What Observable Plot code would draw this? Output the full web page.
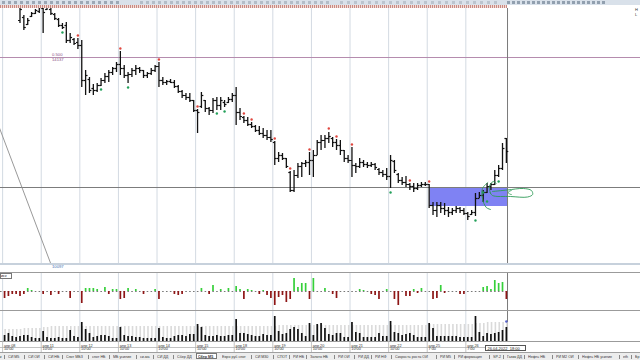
<!DOCTYPE html>
<html><head><meta charset="utf-8">
<script src="https://cdn.jsdelivr.net/npm/d3@7"></script>
<script src="https://cdn.jsdelivr.net/npm/@observablehq/plot@0.6"></script>
<style>
html,body{margin:0;padding:0;background:#fff;}
#root{position:relative;width:640px;height:360px;overflow:hidden;background:#fff;font-family:"Liberation Sans",Arial,sans-serif;color:#222;}
.a{position:absolute;}
.tab{position:absolute;top:354px;font-size:4.4px;line-height:5px;white-space:nowrap;transform:scaleX(0.83);transform-origin:left center;color:#333;}
.sep{position:absolute;top:354.5px;width:0.6px;height:4.5px;background:#888;}
</style></head><body><div id="root"></div>
<script>
// ---------- DATA (price in points; index = hourly bar number) ----------
const highs = [15100,14900,14840,14960,15020,15100,15100,15100,15040,14940,
14840,14740,14760,14540,14440,14440,14400,13800,13660,13520,
13540,13640,13740,13800,13860,13960,14180,13900,13760,13840,
13900,13860,13800,13760,13840,13900,13960,13660,13600,13620,
13600,13500,13400,13340,13340,13200,13020,13360,13200,13060,
13240,13260,13260,13200,13260,13340,13460,13040,12880,12860,
12760,12700,12680,12640,12600,12600,12380,12160,12140,12040,
11780,11800,11940,11960,12000,12160,12200,12400,12500,12500,
12560,12460,12420,12400,12200,12100,12260,11940,12040,12000,
11960,11960,11940,11840,11800,11840,12100,12000,11740,11660,
11680,11540,11540,11540,11560,11560,11520,11160,11160,11160,
11140,11060,11040,11080,11060,11040,10960,11000,11340,11360,
11400,11540,11540,11800,11900,12340,12440];
const lows = [14740,14600,14700,14860,14920,14940,14540,15000,14900,14800,
14660,14620,14340,14340,14300,14220,13460,13300,13340,13300,
13360,13480,13540,13560,13700,13760,13700,13640,13540,13660,
13700,13740,13640,13640,13700,13760,13460,13500,13500,13540,
13440,13340,13240,13200,13160,12960,12540,13040,12960,12900,
12940,13000,13000,13060,13140,13160,12700,12800,12740,12680,
12640,12560,12500,12440,12400,12360,11900,11960,12000,11840,
11360,11360,11640,11660,11860,11700,11660,12100,12200,12240,
12340,12260,12200,12100,11960,11940,11660,11740,11840,11860,
11840,11860,11800,11700,11660,11600,11440,11740,11540,11500,
11460,11400,11360,11400,11460,11480,11040,10900,10860,10940,
10900,10860,10900,10940,10940,10900,10800,10900,10880,11240,
11160,11340,11400,11500,11660,11800,11940];
const opens = [14800,14860,14720,14880,14940,14980,15040,15020,15020,14920,
14820,14700,14700,14400,14420,14360,14300,13600,13620,13440,
13400,13500,13600,13680,13760,13840,13920,13840,13700,13720,
13800,13840,13800,13700,13740,13800,13880,13600,13560,13580,
13560,13480,13380,13300,13260,13200,13000,13080,13200,13040,
13000,13200,13100,13160,13160,13220,13300,12960,12860,12800,
12720,12680,12600,12540,12500,12460,12360,12040,12100,12040,
11760,11400,11700,11880,11940,11960,12000,12100,12360,12400,
12440,12440,12360,12300,12200,12040,12000,11900,11880,11960,
11920,11900,11920,11820,11760,11720,11680,11980,11720,11600,
11560,11520,11480,11440,11500,11520,11520,11100,11000,11100,
11040,11000,10960,11000,11040,11000,10940,10920,10960,11240,
11300,11360,11480,11520,11700,11840,12440];
const closes = [15020,14660,14800,14940,15000,15060,14960,15080,14940,14840,
14700,14660,14400,14460,14340,14300,13600,13700,13400,13400,
13500,13600,13680,13760,13840,13920,13840,13700,13720,13800,
13840,13800,13700,13740,13800,13880,13600,13560,13580,13560,
13480,13380,13300,13260,13200,13000,12960,13300,13040,13000,
13200,13100,13200,13120,13220,13300,12960,12880,12800,12720,
12680,12600,12540,12500,12460,12420,12040,12100,12040,11880,
11400,11700,11880,11940,11960,12000,12100,12360,12400,12440,
12480,12360,12300,12200,12040,12000,11900,11880,11960,11920,
11900,11920,11860,11760,11720,11680,12000,11800,11600,11560,
11520,11480,11440,11500,11520,11520,11100,11000,11100,11040,
11000,10960,11000,11040,11000,10940,10880,10960,11240,11300,
11360,11480,11520,11700,11840,12240,12180];

// fractal markers [barIndex, price]
const upFractals = [[15,14500],[26,14240],[36,14020],[46,13080],[58,12940],[60,12820],[66,12440],[70,11840],[75,12220],[80,12640],[82,12480],[86,12320],[101,11600],[106,11580]];
const downFractals = [[11,14560],[21,13420],[28,13460],[51,12940],[53,12980],[96,11360],[118,10800],[124,11580],[120,11360],[121,11180]];

// horizontal levels
const fibLevel = 14060, fibLabels = ["0.500","14137"];
const supportLevel = 11460;
const bottomLabel = "10097";
// trend line (index, price)
const trendLine = [[-6,12790],[8.2,9890]];
// highlighted zone
const zone = {i1:106.2, i2:126.3, p1:11460, p2:11080};
// hand-drawn annotation strokes
const scribbleLoop = [[122.4,11380],[126.3,11410],[130.4,11440],[132.5,11400],[132.8,11320],[131.5,11270],[127.1,11280],[122.4,11300],[121.8,11360]];
const scribbleArc = [[121.2,11560],[119.8,11440],[119.8,11240],[120.8,11060],[121.9,11020]];
const scribbleCurl = [[121.9,11340],[121.6,11480],[122.6,11580],[123.4,11540]];
const scribbleHook = [[127.3,11400],[126.5,11370],[126.8,11330],[127.3,11320]];

// lower panes start 4 bars earlier (index -4)
const lowerStart = -4;
const indicator = [-7,-5,-3,-3,-5,-3,3,1,0,0,
-3,0,-4,0,-3,0,0,-7,0,0,
-12,3,3,3,2,0,4,-3,2,2,
-8,-7,3,0,2,0,-3,0,0,2,
-8,0,0,0,-3,-4,-3,0,0,0,
0,3,0,-3,6,0,2,0,3,0,
5,2,-8,2,1,0,-3,1,-4,-7,
-14,-6,-4,-11,-8,13,4,8,8,-8,
13,0,0,3,0,-3,-7,0,0,0,
0,0,2,1,0,-3,-4,-8,0,2,
0,-8,-14,0,-5,-5,2,-2,3,0,
0,-8,-7,6,-2,0,0,0,-3,-3,
0,0,0,0,4,5,2,11,8,9,-8];
const volume = [6,8,5,4,5,6,6,4,3,3,
10,4,3,3,4,3,3,11,5,4,
19,12,8,4,5,6,6,5,3,3,
14,6,5,5,4,4,3,3,3,3,
13,4,3,3,5,6,6,5,7,7,
17,14,6,5,5,6,5,5,6,6,
22,8,8,7,6,5,5,7,6,6,
25,10,7,8,12,14,12,8,5,18,
6,17,18,13,7,6,8,8,4,4,
19,9,8,4,4,4,4,8,5,5,
20,9,8,6,7,8,6,4,4,4,
18,13,5,5,5,5,5,5,4,4,
4,4,25,9,5,8,7,8,9,11,14];
const volumeAvg = [12,12,12,12,12,13,13,13,13,13,
14,14,15,15,15,15,15,15,15,15,
15,15,15,15,15,15,15,15,15,15,
15,15,15,15,15,15,15,15,15,15,
15,15,15,15,15,15,15,15,15,15,
15,15,15,15,15,15,15,15,15,15,
15,15,15,15,15,15,15,15,15,15,
15,16,16,16,16,16,16,16,16,16,
16,16,16,16,16,16,16,16,16,16,
16,16,16,16,16,16,16,16,16,16,
16,16,16,16,16,16,16,16,16,16,
17,17,17,17,17,17,17,17,17,17,
17,17,18,18,18,19,19,19,19,19,19];
const volumeMarker = 20;

const dayDates = ["апр 08","апр 11","апр 12","апр 13","апр 14","апр 15","апр 18","апр 19","апр 20","апр 21","апр 22","апр 25","апр 26"];
const dayTimes = ["10:00","10:00","10:00","10:00","10:00","10:00","10:00","10:00","10:00","10:00","10:00","7:00","7:00"];
const barsPerDay = 10;
const cursorLabel = "26.04.2022  18:00";

const tabNames = ["м","СИ М5","СИ ОИ","СИ НБ","Спот МБ3","спот НБ","МБ усилие","си-ма","СИ ДД","Сбер ДД","Сбер М5","Евро руб спот","СИ М30","СПОТ","РИ НБ","Золото НБ","РИ ОИ","РИ ДД","РИ НФ","Скорость роста ОИ","РИ М5","РИ формация","SP-2","Газик ДД","Нефть НБ","РИ М2 ОИ","Нефть НБ усилие","eth","Бр"];
const tabLeft = [-1,8,28,48,66,92,113,140,157,177,198,222,255,277,293,310,338,358,375,395,440,458,493,507,528,556,582,623,635];
const activeTab = "Сбер М5";

// ---------- BUILD ----------
const root = document.getElementById("root");
function put(node, top, left){ const d=document.createElement("div"); d.className="a"; d.style.left=(left||0)+"px"; d.style.top=top+"px"; d.style.width="640px"; d.appendChild(node); root.appendChild(d); return d; }
function box(css, text){ const d=document.createElement("div"); d.className="a"; d.style.cssText+=css; if(text!==undefined) d.textContent=text; root.appendChild(d); return d; }

const X = {domain:[-5.05,160.75], axis:null};
const lastIndex = highs.length-1;
const cursorI = zone.i2;
const dayGrid = dayDates.map((d,k)=>({g: lowerStart + k*barsPerDay - 0.5, date:d, time:dayTimes[k]}));
const bars = highs.map((h,i)=>({i, high:h, low:lows[i], open:opens[i], close:closes[i]}));
const ups = upFractals.map(([i,p])=>({i,p}));
const downs = downFractals.map(([i,p])=>({i,p}));
const toPts = (arr)=>arr.map(([i,p])=>({i,p}));
const st = {background:"transparent", overflow:"hidden", fontFamily:"Liberation Sans, Arial, sans-serif"};

// toolbar + band
box("left:0;top:0;width:640px;height:5px;background:#d9e1ea;");
box("left:2px;top:0.5px;width:120px;height:3.5px;background:repeating-linear-gradient(90deg,#8d9aa8 0 3px,transparent 3px 6px);opacity:.8;");
box("left:140px;top:0.5px;width:190px;height:3.5px;background:repeating-linear-gradient(90deg,#9aa6b2 0 3px,transparent 3px 6px);opacity:.6;");
box("left:340px;top:0.5px;width:160px;height:3.5px;background:repeating-linear-gradient(90deg,#a8b2bd 0 3px,transparent 3px 7px);opacity:.6;");
box("left:507px;top:0.5px;width:100px;height:3.5px;background:repeating-linear-gradient(90deg,#7f8fa0 0 3px,transparent 3px 5px);opacity:.8;");
box("left:0;top:5px;width:507px;height:3px;background:repeating-linear-gradient(90deg,#c98a82 0 1px,#f2ddd8 1px 2px);");

// price pane
const price = Plot.plot({
  width:640, height:257, margin:0, x:X, y:{domain:[9900,15040], axis:null}, style:st,
  marks:[
    Plot.ruleX(dayGrid,{x:"g", stroke:"#d3dae2", strokeWidth:1}),
    Plot.rect([zone],{x1:"i1", x2:"i2", y1:"p1", y2:"p2", fill:"#7f82f3"}),
    Plot.ruleY([fibLevel],{stroke:"#b58cae", strokeWidth:1}),
    Plot.ruleY([supportLevel],{stroke:"#7c7c7c", strokeWidth:1}),
    Plot.line(toPts(trendLine),{x:"i", y:"p", stroke:"#8d8d8d", strokeWidth:0.9}),
    Plot.ruleX([cursorI],{stroke:"#7a7a7a", strokeWidth:1}),
    Plot.ruleX(bars,{x:"i", y1:"low", y2:"high", stroke:"#111", strokeWidth:1.3}),
    Plot.link(bars,{x1:d=>d.i-0.5, x2:"i", y1:"open", y2:"open", stroke:"#111", strokeWidth:1.2}),
    Plot.link(bars,{x1:"i", x2:d=>d.i+0.5, y1:"close", y2:"close", stroke:"#111", strokeWidth:1.2}),
    Plot.dot(ups,{x:"i", y:"p", r:1.2, fill:"#e0463e", stroke:"none"}),
    Plot.dot(downs,{x:"i", y:"p", r:1.2, fill:"#23a05a", stroke:"none"}),
    Plot.line(toPts(scribbleLoop),{x:"i", y:"p", curve:"catmull-rom", stroke:"#2f9b57", strokeWidth:0.9}),
    Plot.line(toPts(scribbleArc),{x:"i", y:"p", curve:"catmull-rom", stroke:"#2f9b57", strokeWidth:0.9}),
    Plot.line(toPts(scribbleCurl),{x:"i", y:"p", curve:"catmull-rom", stroke:"#2f9b57", strokeWidth:0.9}),
    Plot.line(toPts(scribbleHook),{x:"i", y:"p", curve:"catmull-rom", stroke:"#2f9b57", strokeWidth:0.8}),
    Plot.text([fibLabels[0]],{x:8.3, y:fibLevel, dy:-2.6, text:d=>d, textAnchor:"start", fontSize:4.2, fill:"#8a4f86"}),
    Plot.text([fibLabels[1]],{x:8.3, y:fibLevel, dy:2.6, text:d=>d, textAnchor:"start", fontSize:4.2, fill:"#8a4f86"})
  ]
});
put(price, 8);

// pane bottom band + labels
box("left:0;top:263px;width:640px;height:2px;background:#c7d1dc;");
box("left:52px;top:264.6px;font-size:4.2px;line-height:4px;color:#3f6fb0;", bottomLabel);
box("left:635px;top:7.5px;font-size:4px;line-height:4px;color:#333;", "H");
box("left:635px;top:12.5px;font-size:4px;line-height:4px;color:#333;", "L");

// indicator pane
const ind = indicator.map((v,k)=>({i:k+lowerStart, v}));
const indPlot = Plot.plot({
  width:640, height:38, margin:0, x:X, y:{domain:[-19,19], axis:null}, style:st,
  marks:[
    Plot.ruleX(dayGrid,{x:"g", stroke:"#d3dae2", strokeWidth:1}),
    Plot.ruleY([0],{x1:-5.05, x2:cursorI, stroke:"#555", strokeWidth:0.8, strokeDasharray:"1.6,2.26"}),
    Plot.ruleX([cursorI],{stroke:"#7a7a7a", strokeWidth:1}),
    Plot.ruleX(ind.filter(d=>d.v!==0),{x:"i", y1:0, y2:"v", stroke:d=>d.v>0?"#36d03a":"#8e1616", strokeWidth:1.7})
  ]
});
put(indPlot, 272);
box("left:0;top:272px;width:640px;height:1px;background:#9b9b9b;");
box("left:0;top:272.8px;width:10px;height:4.6px;border:0.5px solid #777;background:#fff;font-size:3.8px;line-height:4.6px;overflow:hidden;white-space:nowrap;", "иск");
box("left:0;top:310px;width:640px;height:1px;background:#9b9b9b;");

// volume pane
const vol = volume.map((v,k)=>({i:k+lowerStart, v, a:volumeAvg[k]}));
const volPlot = Plot.plot({
  width:640, height:30, margin:0, x:X, y:{domain:[0,30], axis:null}, style:st,
  marks:[
    Plot.ruleX(dayGrid,{x:"g", stroke:"#d3dae2", strokeWidth:1}),
    Plot.ruleX([cursorI],{stroke:"#7a7a7a", strokeWidth:1}),
    Plot.ruleX(vol,{x:"i", y1:0, y2:"a", stroke:"#dadada", strokeWidth:1.6, dx:0.6}),
    Plot.ruleX(vol,{x:"i", y1:0, y2:"v", stroke:"#111", strokeWidth:1.7}),
    Plot.dot([{i:lastIndex, v:volumeMarker}],{x:"i", y:"v", r:1.2, fill:"#5560c8", stroke:"none"})
  ]
});
put(volPlot, 311);
box("left:0;top:341px;width:640px;height:1px;background:#9b9b9b;");
box("left:0;top:347px;width:507px;height:0.6px;background:#c2c2c2;");
box("left:0;top:352.3px;width:640px;height:0.8px;background:#a0a0a0;");

// time axis
const axisPlot = Plot.plot({
  width:640, height:11, margin:0, x:X, y:{axis:null}, style:Object.assign({},st,{overflow:"visible"}),
  marks:[
    Plot.ruleX(dayGrid,{x:"g", stroke:"#b4b4b4", strokeWidth:0.8}),
    Plot.text(dayGrid,{x:"g", text:"date", frameAnchor:"top", dy:3, dx:1.3, textAnchor:"start", fontSize:3.8, fill:"#333"}),
    Plot.text(dayGrid,{x:"g", text:"time", frameAnchor:"bottom", dy:-2.4, dx:1.3, textAnchor:"start", fontSize:3.8, fill:"#333"})
  ]
});
put(axisPlot, 341);
box("left:485px;top:344.6px;width:41px;height:6.6px;border:0.6px solid #555;background:#fff;font-size:4px;line-height:6.6px;padding-left:1.5px;box-sizing:border-box;white-space:pre;color:#222;", cursorLabel);

// tabs
box("left:0;top:353px;width:640px;height:7px;background:#ededed;");
tabNames.forEach((t,k)=>{
  const x = tabLeft[k];
  if(t===activeTab) box(`left:${x-2}px;top:353.2px;width:21px;height:6.3px;background:#fff;border:0.6px solid #777;box-sizing:border-box;`);
  const s=document.createElement("div"); s.className="tab"; s.style.left=x+"px"; s.textContent=t; if(t===activeTab){s.style.fontWeight="bold";} root.appendChild(s);
  if(k>0 && t!==activeTab && tabNames[k-1]!==activeTab){ const sp=document.createElement("div"); sp.className="sep"; sp.style.left=(x-4)+"px"; root.appendChild(sp); }
});
</script></body></html>
